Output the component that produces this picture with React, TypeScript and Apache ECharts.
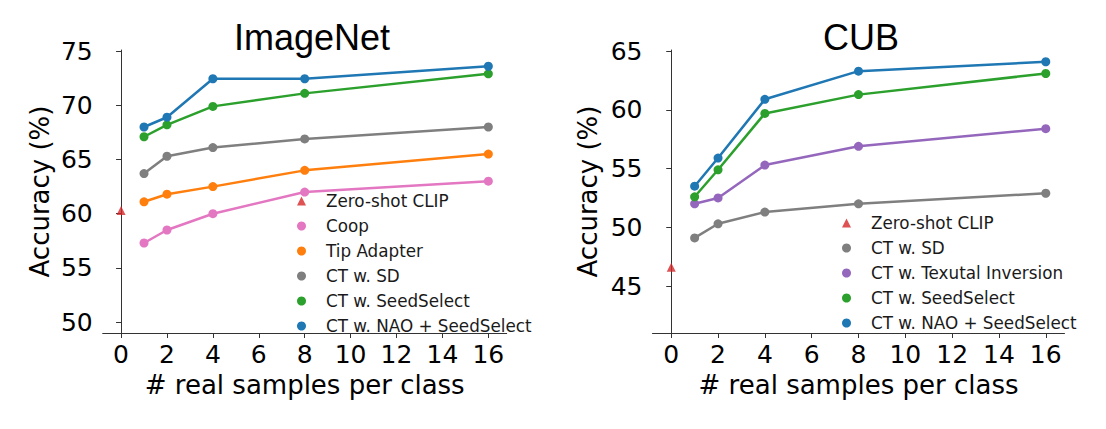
import React, { useEffect, useRef } from "react";
import * as echarts from "echarts";

const shots = [1, 2, 4, 8, 16];
const xTicks = [0, 2, 4, 6, 8, 10, 12, 14, 16];
const imagenetYTicks = [50, 55, 60, 65, 70, 75];
const cubYTicks = [45, 50, 55, 60, 65];

const imagenetZeroShot = 60.3;
const imagenetCoop = [57.3, 58.5, 60.0, 62.0, 63.0];
const imagenetTip = [61.1, 61.8, 62.5, 64.0, 65.5];
const imagenetSD = [63.7, 65.3, 66.1, 66.9, 68.0];
const imagenetSeed = [67.1, 68.2, 69.9, 71.1, 72.9];
const imagenetNAO = [68.0, 68.9, 72.45, 72.45, 73.6];

const cubZeroShot = 46.6;
const cubSD = [49.1, 50.3, 51.3, 52.0, 52.9];
const cubTI = [52.0, 52.5, 55.3, 56.9, 58.4];
const cubSeed = [52.6, 54.9, 59.7, 61.3, 63.1];
const cubNAO = [53.5, 55.9, 60.9, 63.3, 64.1];

const C = {
  blue: "#1f77b4",
  orange: "#ff7f0e",
  green: "#2ca02c",
  red: "#d62728",
  purple: "#9467bd",
  pink: "#e377c2",
  gray: "#7f7f7f",
};

const AX = "DejaVu Sans";

function pairs(vals: number[]) {
  return vals.map((v, i) => [shots[i], v]);
}

function lineSeries(name: string, vals: number[], color: string, idx: number) {
  return {
    type: "line",
    name,
    xAxisIndex: idx,
    yAxisIndex: idx,
    data: pairs(vals),
    symbol: "circle",
    symbolSize: 9,
    showSymbol: true,
    lineStyle: { color, width: 2.5 },
    itemStyle: { color },
    z: 3,
  };
}

function zeroSeries(v: number, idx: number) {
  return {
    type: "scatter",
    name: "Zero-shot CLIP",
    xAxisIndex: idx,
    yAxisIndex: idx,
    data: [[0, v]],
    symbol: "triangle",
    symbolSize: 9,
    itemStyle: { color: C.red },
    z: 3,
  };
}

function xAxis(idx: number) {
  return {
    type: "value",
    gridIndex: idx,
    min: -0.8,
    max: 16.8,
    name: "# real samples per class",
    nameLocation: "middle",
    nameGap: 36,
    nameTextStyle: { fontFamily: AX, fontSize: 26, color: "#000" },
    axisLine: { lineStyle: { color: "#333", width: 1 } },
    axisTick: { show: true, length: 5, customValues: xTicks, lineStyle: { color: "#333" } },
    axisLabel: { customValues: xTicks, fontFamily: AX, fontSize: 25, color: "#000", margin: 9 },
    splitLine: { show: false },
  };
}

function yAxis(idx: number, min: number, max: number, ticks: number[], gap: number) {
  return {
    type: "value",
    gridIndex: idx,
    min,
    max,
    name: "Accuracy (%)",
    nameLocation: "middle",
    nameGap: gap,
    nameTextStyle: { fontFamily: AX, fontSize: 26, color: "#000" },
    axisLine: { show: true, lineStyle: { color: "#333", width: 1 } },
    axisTick: { show: true, length: 5, customValues: ticks, lineStyle: { color: "#333" } },
    axisLabel: { customValues: ticks, fontFamily: AX, fontSize: 25, color: "#000", margin: 10 },
    splitLine: { show: false },
  };
}

function legend(names: string[], left: number, top: number) {
  return {
    orient: "vertical",
    left,
    top,
    itemWidth: 9,
    itemHeight: 9,
    itemGap: 7,
    selectedMode: false,
    data: names.map((n) => ({ name: n, icon: n === "Zero-shot CLIP" ? "triangle" : "circle" })),
    textStyle: { fontFamily: AX, fontSize: 16.8, color: "#1a1a1a", lineHeight: 18, padding: [0, 0, 0, 15] },
  };
}

export default function App() {
  const ref = useRef<HTMLDivElement>(null);
  useEffect(() => {
    if (!ref.current) return;
    const chart = echarts.init(ref.current, undefined, { renderer: "svg" });
    chart.setOption({
      animation: false,
      backgroundColor: "#fff",
      title: [
        {
          text: "ImageNet",
          left: 312,
          top: 19,
          textAlign: "center",
          padding: 0,
          textStyle: { fontFamily: "Liberation Sans", fontSize: 36, fontWeight: "normal", color: "#000" },
        },
        {
          text: "CUB",
          left: 861,
          top: 19,
          textAlign: "center",
          padding: 0,
          textStyle: { fontFamily: "Liberation Sans", fontSize: 36, fontWeight: "normal", color: "#000" },
        },
      ],
      grid: [
        { left: 102.7, top: 50, width: 404, height: 283 },
        { left: 652.5, top: 50, width: 412, height: 283 },
      ],
      xAxis: [xAxis(0), xAxis(1)],
      yAxis: [
        yAxis(0, 49, 75.1, imagenetYTicks, 50),
        yAxis(1, 41, 65.1, cubYTicks, 52),
      ],
      legend: [
        legend(["Zero-shot CLIP", "Coop", "Tip Adapter", "CT w. SD", "CT w. SeedSelect", "CT w. NAO + SeedSelect"], 292, 187),
        legend(["Zero-shot CLIP", "CT w. SD", "CT w. Texutal Inversion", "CT w. SeedSelect", "CT w. NAO + SeedSelect"], 837, 209),
      ],
      series: [
        zeroSeries(imagenetZeroShot, 0),
        lineSeries("Coop", imagenetCoop, C.pink, 0),
        lineSeries("Tip Adapter", imagenetTip, C.orange, 0),
        lineSeries("CT w. SD", imagenetSD, C.gray, 0),
        lineSeries("CT w. SeedSelect", imagenetSeed, C.green, 0),
        lineSeries("CT w. NAO + SeedSelect", imagenetNAO, C.blue, 0),
        zeroSeries(cubZeroShot, 1),
        lineSeries("CT w. SD", cubSD, C.gray, 1),
        lineSeries("CT w. Texutal Inversion", cubTI, C.purple, 1),
        lineSeries("CT w. SeedSelect", cubSeed, C.green, 1),
        lineSeries("CT w. NAO + SeedSelect", cubNAO, C.blue, 1),
      ],
    });
    return () => chart.dispose();
  }, []);
  return (
    <div
      ref={ref}
      style={{ position: "absolute", left: 0, top: 0, width: 1106, height: 429, background: "#fff" }}
    />
  );
}
